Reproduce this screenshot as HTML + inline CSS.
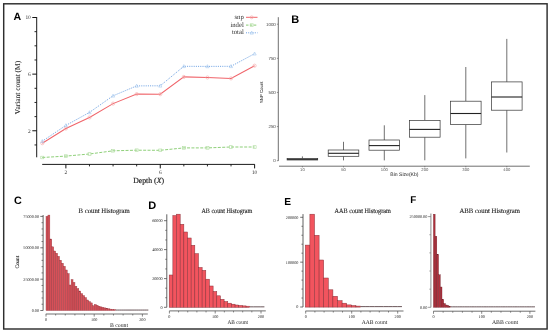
<!DOCTYPE html>
<html><head><meta charset="utf-8"><style>
html,body{margin:0;padding:0;background:#fff;width:550px;height:333px;overflow:hidden}
svg{display:block;will-change:transform}
text{text-rendering:geometricPrecision}
</style></head><body>
<svg width="550" height="333" viewBox="0 0 550 333">
<rect width="550" height="333" fill="#fff"/>
<rect x="3.7" y="3.8" width="543.4" height="325.2" fill="none" stroke="#2e2e2e" stroke-width="1.45"/>
<text x="13.4" y="19.8" style="font-family:'Liberation Sans',sans-serif;font-size:10.6px;font-weight:bold" text-anchor="start" fill="#000" >A</text>
<line x1="36.7" y1="17.0" x2="36.7" y2="157.3" stroke="#1a1a1a" stroke-width="1.0" />
<line x1="34.5" y1="144.94" x2="36.7" y2="144.94" stroke="#111" stroke-width="0.9" />
<line x1="32.300000000000004" y1="130.78" x2="36.7" y2="130.78" stroke="#111" stroke-width="1" />
<text x="30.800000000000004" y="132.58" style="font-family:'Liberation Serif',serif;font-size:5.4px;font-weight:normal" text-anchor="end" fill="#333" >2</text>
<line x1="34.5" y1="116.61999999999999" x2="36.7" y2="116.61999999999999" stroke="#111" stroke-width="0.9" />
<line x1="34.5" y1="102.46" x2="36.7" y2="102.46" stroke="#111" stroke-width="0.9" />
<line x1="34.5" y1="88.3" x2="36.7" y2="88.3" stroke="#111" stroke-width="0.9" />
<line x1="32.300000000000004" y1="74.13999999999999" x2="36.7" y2="74.13999999999999" stroke="#111" stroke-width="1" />
<text x="30.800000000000004" y="75.93999999999998" style="font-family:'Liberation Serif',serif;font-size:5.4px;font-weight:normal" text-anchor="end" fill="#333" >6</text>
<line x1="34.5" y1="59.97999999999999" x2="36.7" y2="59.97999999999999" stroke="#111" stroke-width="0.9" />
<line x1="34.5" y1="45.81999999999999" x2="36.7" y2="45.81999999999999" stroke="#111" stroke-width="0.9" />
<line x1="34.5" y1="31.659999999999997" x2="36.7" y2="31.659999999999997" stroke="#111" stroke-width="0.9" />
<line x1="32.300000000000004" y1="17.5" x2="36.7" y2="17.5" stroke="#111" stroke-width="1" />
<text x="30.800000000000004" y="19.3" style="font-family:'Liberation Serif',serif;font-size:5.4px;font-weight:normal" text-anchor="end" fill="#333" >10</text>
<line x1="42.2" y1="164.4" x2="254.8" y2="164.4" stroke="#1a1a1a" stroke-width="1.0" />
<line x1="65.89" y1="164.4" x2="65.89" y2="168.4" stroke="#111" stroke-width="1" />
<text x="65.89" y="173.9" style="font-family:'Liberation Serif',serif;font-size:5.4px;font-weight:normal" text-anchor="middle" fill="#333" >2</text>
<line x1="89.47999999999999" y1="164.4" x2="89.47999999999999" y2="166.4" stroke="#111" stroke-width="0.9" />
<line x1="113.07" y1="164.4" x2="113.07" y2="166.4" stroke="#111" stroke-width="0.9" />
<line x1="136.66" y1="164.4" x2="136.66" y2="166.4" stroke="#111" stroke-width="0.9" />
<line x1="160.25" y1="164.4" x2="160.25" y2="168.4" stroke="#111" stroke-width="1" />
<text x="160.25" y="173.9" style="font-family:'Liberation Serif',serif;font-size:5.4px;font-weight:normal" text-anchor="middle" fill="#333" >6</text>
<line x1="183.83999999999997" y1="164.4" x2="183.83999999999997" y2="166.4" stroke="#111" stroke-width="0.9" />
<line x1="207.43" y1="164.4" x2="207.43" y2="166.4" stroke="#111" stroke-width="0.9" />
<line x1="231.01999999999998" y1="164.4" x2="231.01999999999998" y2="166.4" stroke="#111" stroke-width="0.9" />
<line x1="254.61" y1="164.4" x2="254.61" y2="168.4" stroke="#111" stroke-width="1" />
<text x="254.61" y="173.9" style="font-family:'Liberation Serif',serif;font-size:5.4px;font-weight:normal" text-anchor="middle" fill="#333" >10</text>
<text x="148.6" y="183" style="font-family:'Liberation Serif',serif;font-size:7.75px;font-weight:normal" text-anchor="middle" fill="#222" stroke="#222" stroke-width="0.18" >Depth (<tspan font-style="italic">X</tspan>)</text>
<text x="19.6" y="87.5" style="font-family:'Liberation Serif',serif;font-size:7.45px;font-weight:normal" text-anchor="middle" fill="#2a2a2a" stroke="#2a2a2a" stroke-width="0.08" transform="rotate(-90 19.6 87.5)" >Variant count (M)</text>
<polyline points="42.30,157.50 65.89,156.10 89.48,154.00 113.07,150.80 136.66,150.20 160.25,150.30 183.84,147.90 207.43,147.90 231.02,147.00 254.61,147.00" fill="none" stroke="#88cc72" stroke-width="0.95" stroke-dasharray="3,1.4"/>
<polyline points="42.30,141.20 65.89,125.40 89.48,112.40 113.07,95.80 136.66,85.90 160.25,85.80 183.84,66.30 207.43,66.40 231.02,66.30 254.61,53.70" fill="none" stroke="#6a9fe2" stroke-width="1.0" stroke-dasharray="1.0,1.2"/>
<polyline points="42.30,143.20 65.89,128.50 89.48,117.50 113.07,103.60 136.66,94.10 160.25,94.20 183.84,76.90 207.43,77.50 231.02,78.40 254.61,65.70" fill="none" stroke="#f0646a" stroke-width="1.05" stroke-dasharray="none"/>
<circle cx="42.30" cy="143.2" r="1.6" fill="none" stroke="#f4a8a8" stroke-width="0.6"/>
<circle cx="65.89" cy="128.5" r="1.6" fill="none" stroke="#f4a8a8" stroke-width="0.6"/>
<circle cx="89.48" cy="117.5" r="1.6" fill="none" stroke="#f4a8a8" stroke-width="0.6"/>
<circle cx="113.07" cy="103.6" r="1.6" fill="none" stroke="#f4a8a8" stroke-width="0.6"/>
<circle cx="136.66" cy="94.1" r="1.6" fill="none" stroke="#f4a8a8" stroke-width="0.6"/>
<circle cx="160.25" cy="94.2" r="1.6" fill="none" stroke="#f4a8a8" stroke-width="0.6"/>
<circle cx="183.84" cy="76.9" r="1.6" fill="none" stroke="#f4a8a8" stroke-width="0.6"/>
<circle cx="207.43" cy="77.5" r="1.6" fill="none" stroke="#f4a8a8" stroke-width="0.6"/>
<circle cx="231.02" cy="78.4" r="1.6" fill="none" stroke="#f4a8a8" stroke-width="0.6"/>
<circle cx="254.61" cy="65.7" r="1.6" fill="none" stroke="#f4a8a8" stroke-width="0.6"/>
<rect x="40.80" y="156.2" width="3" height="2.6" fill="none" stroke="#b0dca0" stroke-width="0.6"/>
<rect x="64.39" y="154.79999999999998" width="3" height="2.6" fill="none" stroke="#b0dca0" stroke-width="0.6"/>
<rect x="87.98" y="152.7" width="3" height="2.6" fill="none" stroke="#b0dca0" stroke-width="0.6"/>
<rect x="111.57" y="149.5" width="3" height="2.6" fill="none" stroke="#b0dca0" stroke-width="0.6"/>
<rect x="135.16" y="148.89999999999998" width="3" height="2.6" fill="none" stroke="#b0dca0" stroke-width="0.6"/>
<rect x="158.75" y="149.0" width="3" height="2.6" fill="none" stroke="#b0dca0" stroke-width="0.6"/>
<rect x="182.34" y="146.6" width="3" height="2.6" fill="none" stroke="#b0dca0" stroke-width="0.6"/>
<rect x="205.93" y="146.6" width="3" height="2.6" fill="none" stroke="#b0dca0" stroke-width="0.6"/>
<rect x="229.52" y="145.7" width="3" height="2.6" fill="none" stroke="#b0dca0" stroke-width="0.6"/>
<rect x="253.11" y="145.7" width="3" height="2.6" fill="none" stroke="#b0dca0" stroke-width="0.6"/>
<path d="M40.70,142.5 L42.30,139.5 L43.90,142.5 Z" fill="none" stroke="#a4c8ee" stroke-width="0.6"/>
<path d="M64.29,126.7 L65.89,123.7 L67.49,126.7 Z" fill="none" stroke="#a4c8ee" stroke-width="0.6"/>
<path d="M87.88,113.7 L89.48,110.7 L91.08,113.7 Z" fill="none" stroke="#a4c8ee" stroke-width="0.6"/>
<path d="M111.47,97.1 L113.07,94.1 L114.67,97.1 Z" fill="none" stroke="#a4c8ee" stroke-width="0.6"/>
<path d="M135.06,87.2 L136.66,84.2 L138.26,87.2 Z" fill="none" stroke="#a4c8ee" stroke-width="0.6"/>
<path d="M158.65,87.1 L160.25,84.1 L161.85,87.1 Z" fill="none" stroke="#a4c8ee" stroke-width="0.6"/>
<path d="M182.24,67.6 L183.84,64.6 L185.44,67.6 Z" fill="none" stroke="#a4c8ee" stroke-width="0.6"/>
<path d="M205.83,67.7 L207.43,64.7 L209.03,67.7 Z" fill="none" stroke="#a4c8ee" stroke-width="0.6"/>
<path d="M229.42,67.6 L231.02,64.6 L232.62,67.6 Z" fill="none" stroke="#a4c8ee" stroke-width="0.6"/>
<path d="M253.01,55.0 L254.61,52.0 L256.21,55.0 Z" fill="none" stroke="#a4c8ee" stroke-width="0.6"/>
<text x="243.8" y="18.8" style="font-family:'Liberation Serif',serif;font-size:6.7px;font-weight:normal" text-anchor="end" fill="#333" >snp</text>
<text x="243.8" y="26.7" style="font-family:'Liberation Serif',serif;font-size:6.7px;font-weight:normal" text-anchor="end" fill="#333" >indel</text>
<text x="243.8" y="34.4" style="font-family:'Liberation Serif',serif;font-size:6.7px;font-weight:normal" text-anchor="end" fill="#333" >total</text>
<line x1="246" y1="17.3" x2="257.5" y2="17.3" stroke="#f0646a" stroke-width="1.0" />
<line x1="246" y1="25.1" x2="257.5" y2="25.1" stroke="#88cc72" stroke-width="1.0" stroke-dasharray="2.5,1.4"/>
<line x1="246" y1="32.8" x2="257.5" y2="32.8" stroke="#6a9fe2" stroke-width="1.0" stroke-dasharray="1,1.2"/>
<circle cx="251.7" cy="17.3" r="1.5" fill="none" stroke="#f4a8a8" stroke-width="0.6"/>
<rect x="250.2" y="23.8" width="3" height="2.6" fill="none" stroke="#b0dca0" stroke-width="0.6"/>
<path d="M250.1,34.1 L251.7,31.1 L253.3,34.1 Z" fill="none" stroke="#a4c8ee" stroke-width="0.6"/>
<text x="291.2" y="22.8" style="font-family:'Liberation Sans',sans-serif;font-size:11px;font-weight:bold" text-anchor="start" fill="#000" >B</text>
<line x1="278.3" y1="17.2" x2="278.3" y2="160.9" stroke="#555" stroke-width="0.85" />
<line x1="276.90000000000003" y1="160.7" x2="278.3" y2="160.7" stroke="#666" stroke-width="0.7" />
<text x="275.8" y="162.35" style="font-family:'Liberation Sans',sans-serif;font-size:4.4px;font-weight:normal" text-anchor="end" fill="#444" >0</text>
<line x1="276.90000000000003" y1="126.57499999999999" x2="278.3" y2="126.57499999999999" stroke="#666" stroke-width="0.7" />
<text x="275.8" y="128.225" style="font-family:'Liberation Sans',sans-serif;font-size:4.4px;font-weight:normal" text-anchor="end" fill="#444" >250</text>
<line x1="276.90000000000003" y1="92.44999999999999" x2="278.3" y2="92.44999999999999" stroke="#666" stroke-width="0.7" />
<text x="275.8" y="94.1" style="font-family:'Liberation Sans',sans-serif;font-size:4.4px;font-weight:normal" text-anchor="end" fill="#444" >500</text>
<line x1="276.90000000000003" y1="58.324999999999974" x2="278.3" y2="58.324999999999974" stroke="#666" stroke-width="0.7" />
<text x="275.8" y="59.97499999999997" style="font-family:'Liberation Sans',sans-serif;font-size:4.4px;font-weight:normal" text-anchor="end" fill="#444" >750</text>
<line x1="276.90000000000003" y1="24.19999999999999" x2="278.3" y2="24.19999999999999" stroke="#666" stroke-width="0.7" />
<text x="275.8" y="25.849999999999987" style="font-family:'Liberation Sans',sans-serif;font-size:4.4px;font-weight:normal" text-anchor="end" fill="#444" >1000</text>
<text x="263.4" y="92.3" style="font-family:'Liberation Sans',sans-serif;font-size:4.3px;font-weight:normal" text-anchor="middle" fill="#111" transform="rotate(-90 263.4 92.3)" >SNP Count</text>
<line x1="279.0" y1="166.2" x2="529.8" y2="166.2" stroke="#555" stroke-width="0.85" />
<line x1="302.4" y1="166" x2="302.4" y2="167.4" stroke="#666" stroke-width="0.7" />
<text x="302.4" y="171.1" style="font-family:'Liberation Sans',sans-serif;font-size:4.2px;font-weight:normal" text-anchor="middle" fill="#555" >10</text>
<line x1="343.5" y1="166" x2="343.5" y2="167.4" stroke="#666" stroke-width="0.7" />
<text x="343.5" y="171.1" style="font-family:'Liberation Sans',sans-serif;font-size:4.2px;font-weight:normal" text-anchor="middle" fill="#555" >50</text>
<line x1="384.3" y1="166" x2="384.3" y2="167.4" stroke="#666" stroke-width="0.7" />
<text x="384.3" y="171.1" style="font-family:'Liberation Sans',sans-serif;font-size:4.2px;font-weight:normal" text-anchor="middle" fill="#555" >100</text>
<line x1="424.8" y1="166" x2="424.8" y2="167.4" stroke="#666" stroke-width="0.7" />
<text x="424.8" y="171.1" style="font-family:'Liberation Sans',sans-serif;font-size:4.2px;font-weight:normal" text-anchor="middle" fill="#555" >200</text>
<line x1="465.8" y1="166" x2="465.8" y2="167.4" stroke="#666" stroke-width="0.7" />
<text x="465.8" y="171.1" style="font-family:'Liberation Sans',sans-serif;font-size:4.2px;font-weight:normal" text-anchor="middle" fill="#555" >300</text>
<line x1="506.8" y1="166" x2="506.8" y2="167.4" stroke="#666" stroke-width="0.7" />
<text x="506.8" y="171.1" style="font-family:'Liberation Sans',sans-serif;font-size:4.2px;font-weight:normal" text-anchor="middle" fill="#555" >400</text>
<text x="404.4" y="175.6" style="font-family:'Liberation Sans',sans-serif;font-size:5.1px;font-weight:normal" text-anchor="middle" fill="#222" >Bin Size(Kb)</text>
<line x1="302.4" y1="160.0" x2="302.4" y2="160.0" stroke="#333" stroke-width="0.7" />
<line x1="302.4" y1="158.6" x2="302.4" y2="156.4" stroke="#333" stroke-width="0.7" />
<rect x="287.09999999999997" y="158.6" width="30.6" height="1.4000000000000057" fill="#fff" stroke="#333" stroke-width="0.7"/>
<line x1="287.09999999999997" y1="159.3" x2="317.7" y2="159.3" stroke="#222" stroke-width="1.1" />
<line x1="343.5" y1="160.4" x2="343.5" y2="156.3" stroke="#333" stroke-width="0.7" />
<line x1="343.5" y1="150.0" x2="343.5" y2="141.8" stroke="#333" stroke-width="0.7" />
<rect x="328.2" y="150.0" width="30.6" height="6.300000000000011" fill="#fff" stroke="#333" stroke-width="0.7"/>
<line x1="328.2" y1="153.3" x2="358.8" y2="153.3" stroke="#222" stroke-width="1.1" />
<line x1="384.3" y1="160.4" x2="384.3" y2="150.2" stroke="#333" stroke-width="0.7" />
<line x1="384.3" y1="140.0" x2="384.3" y2="125.3" stroke="#333" stroke-width="0.7" />
<rect x="369.0" y="140.0" width="30.6" height="10.199999999999989" fill="#fff" stroke="#333" stroke-width="0.7"/>
<line x1="369.0" y1="145.6" x2="399.6" y2="145.6" stroke="#222" stroke-width="1.1" />
<line x1="424.8" y1="160.3" x2="424.8" y2="137.2" stroke="#333" stroke-width="0.7" />
<line x1="424.8" y1="120.4" x2="424.8" y2="95.1" stroke="#333" stroke-width="0.7" />
<rect x="409.5" y="120.4" width="30.6" height="16.799999999999983" fill="#fff" stroke="#333" stroke-width="0.7"/>
<line x1="409.5" y1="129.4" x2="440.1" y2="129.4" stroke="#222" stroke-width="1.1" />
<line x1="465.8" y1="158.4" x2="465.8" y2="124.6" stroke="#333" stroke-width="0.7" />
<line x1="465.8" y1="101.2" x2="465.8" y2="67.0" stroke="#333" stroke-width="0.7" />
<rect x="450.5" y="101.2" width="30.6" height="23.39999999999999" fill="#fff" stroke="#333" stroke-width="0.7"/>
<line x1="450.5" y1="113.5" x2="481.1" y2="113.5" stroke="#222" stroke-width="1.1" />
<line x1="506.8" y1="152.5" x2="506.8" y2="110.2" stroke="#333" stroke-width="0.7" />
<line x1="506.8" y1="81.9" x2="506.8" y2="38.9" stroke="#333" stroke-width="0.7" />
<rect x="491.5" y="81.9" width="30.6" height="28.299999999999997" fill="#fff" stroke="#333" stroke-width="0.7"/>
<line x1="491.5" y1="97.0" x2="522.1" y2="97.0" stroke="#222" stroke-width="1.1" />
<text x="14.1" y="203.7" style="font-family:'Liberation Sans',sans-serif;font-size:10.8px;font-weight:bold" text-anchor="start" fill="#000" >C</text>
<text x="0" y="0" style="font-family:'Liberation Serif',serif;font-size:6.9px;font-weight:normal" text-anchor="start" fill="#222" stroke="#222" stroke-width="0.12307692307692307" transform="translate(78.6 212.8) scale(0.975 1)" >B count Histogram</text>
<line x1="43.1" y1="215.0" x2="43.1" y2="310.5" stroke="#444" stroke-width="0.85" />
<line x1="40.300000000000004" y1="216.4" x2="43.1" y2="216.4" stroke="#444" stroke-width="0.75" />
<text x="39.0" y="217.75" style="font-family:'Liberation Serif',serif;font-size:4.2px;font-weight:normal" text-anchor="end" fill="#222" >75000.00</text>
<line x1="41.5" y1="222.68" x2="43.1" y2="222.68" stroke="#444" stroke-width="0.65" />
<line x1="41.5" y1="228.96" x2="43.1" y2="228.96" stroke="#444" stroke-width="0.65" />
<line x1="41.5" y1="235.24" x2="43.1" y2="235.24" stroke="#444" stroke-width="0.65" />
<line x1="41.5" y1="241.52" x2="43.1" y2="241.52" stroke="#444" stroke-width="0.65" />
<line x1="40.300000000000004" y1="247.8" x2="43.1" y2="247.8" stroke="#444" stroke-width="0.75" />
<text x="39.0" y="249.15" style="font-family:'Liberation Serif',serif;font-size:4.2px;font-weight:normal" text-anchor="end" fill="#222" >50000.00</text>
<line x1="41.5" y1="254.08" x2="43.1" y2="254.08" stroke="#444" stroke-width="0.65" />
<line x1="41.5" y1="260.36" x2="43.1" y2="260.36" stroke="#444" stroke-width="0.65" />
<line x1="41.5" y1="266.64" x2="43.1" y2="266.64" stroke="#444" stroke-width="0.65" />
<line x1="41.5" y1="272.92" x2="43.1" y2="272.92" stroke="#444" stroke-width="0.65" />
<line x1="40.300000000000004" y1="279.2" x2="43.1" y2="279.2" stroke="#444" stroke-width="0.75" />
<text x="39.0" y="280.55" style="font-family:'Liberation Serif',serif;font-size:4.2px;font-weight:normal" text-anchor="end" fill="#222" >25000.00</text>
<line x1="41.5" y1="285.46" x2="43.1" y2="285.46" stroke="#444" stroke-width="0.65" />
<line x1="41.5" y1="291.71999999999997" x2="43.1" y2="291.71999999999997" stroke="#444" stroke-width="0.65" />
<line x1="41.5" y1="297.98" x2="43.1" y2="297.98" stroke="#444" stroke-width="0.65" />
<line x1="41.5" y1="304.24" x2="43.1" y2="304.24" stroke="#444" stroke-width="0.65" />
<line x1="40.300000000000004" y1="310.5" x2="43.1" y2="310.5" stroke="#444" stroke-width="0.75" />
<text x="39.0" y="311.85" style="font-family:'Liberation Serif',serif;font-size:4.2px;font-weight:normal" text-anchor="end" fill="#222" >0.00</text>
<text x="19.5" y="262.2" style="font-family:'Liberation Serif',serif;font-size:5.2px;font-weight:normal" text-anchor="middle" fill="#111" stroke="#111" stroke-width="0.1" transform="rotate(-90 19.5 262.2)" >Count</text>
<line x1="45.8" y1="314.0" x2="147.8" y2="314.0" stroke="#555" stroke-width="0.85" />
<line x1="46.0" y1="314.0" x2="46.0" y2="316.6" stroke="#555" stroke-width="0.7" />
<line x1="55.64" y1="314.0" x2="55.64" y2="315.5" stroke="#555" stroke-width="0.7" />
<line x1="65.28" y1="314.0" x2="65.28" y2="315.5" stroke="#555" stroke-width="0.7" />
<line x1="74.92" y1="314.0" x2="74.92" y2="315.5" stroke="#555" stroke-width="0.7" />
<line x1="84.56" y1="314.0" x2="84.56" y2="315.5" stroke="#555" stroke-width="0.7" />
<line x1="94.2" y1="314.0" x2="94.2" y2="316.6" stroke="#555" stroke-width="0.7" />
<line x1="103.84" y1="314.0" x2="103.84" y2="315.5" stroke="#555" stroke-width="0.7" />
<line x1="113.48" y1="314.0" x2="113.48" y2="315.5" stroke="#555" stroke-width="0.7" />
<line x1="123.12" y1="314.0" x2="123.12" y2="315.5" stroke="#555" stroke-width="0.7" />
<line x1="132.76" y1="314.0" x2="132.76" y2="315.5" stroke="#555" stroke-width="0.7" />
<line x1="142.4" y1="314.0" x2="142.4" y2="316.6" stroke="#555" stroke-width="0.7" />
<text x="46.0" y="320.6" style="font-family:'Liberation Serif',serif;font-size:4.2px;font-weight:normal" text-anchor="middle" fill="#222" >0</text>
<text x="94.2" y="320.6" style="font-family:'Liberation Serif',serif;font-size:4.2px;font-weight:normal" text-anchor="middle" fill="#222" >100</text>
<text x="142.4" y="320.6" style="font-family:'Liberation Serif',serif;font-size:4.2px;font-weight:normal" text-anchor="middle" fill="#222" >200</text>
<text x="119" y="326.6" style="font-family:'Liberation Serif',serif;font-size:5.8px;font-weight:normal" text-anchor="middle" fill="#222" >B count</text>
<rect x="46.00" y="216.40" width="1.93" height="94.10" fill="#d65058" stroke="#983840" stroke-width="0.4"/>
<rect x="47.93" y="215.10" width="1.93" height="95.40" fill="#d65058" stroke="#983840" stroke-width="0.4"/>
<rect x="49.86" y="239.00" width="1.93" height="71.50" fill="#d65058" stroke="#983840" stroke-width="0.4"/>
<rect x="51.79" y="246.80" width="1.93" height="63.70" fill="#d65058" stroke="#983840" stroke-width="0.4"/>
<rect x="53.72" y="251.00" width="1.93" height="59.50" fill="#d65058" stroke="#983840" stroke-width="0.4"/>
<rect x="55.65" y="253.20" width="1.93" height="57.30" fill="#d65058" stroke="#983840" stroke-width="0.4"/>
<rect x="57.58" y="256.30" width="1.93" height="54.20" fill="#d65058" stroke="#983840" stroke-width="0.4"/>
<rect x="59.51" y="260.20" width="1.93" height="50.30" fill="#d65058" stroke="#983840" stroke-width="0.4"/>
<rect x="61.44" y="263.20" width="1.93" height="47.30" fill="#d65058" stroke="#983840" stroke-width="0.4"/>
<rect x="63.37" y="266.30" width="1.93" height="44.20" fill="#d65058" stroke="#983840" stroke-width="0.4"/>
<rect x="65.30" y="270.00" width="1.93" height="40.50" fill="#d65058" stroke="#983840" stroke-width="0.4"/>
<rect x="67.23" y="273.60" width="1.93" height="36.90" fill="#d65058" stroke="#983840" stroke-width="0.4"/>
<rect x="69.16" y="285.00" width="1.93" height="25.50" fill="#d65058" stroke="#983840" stroke-width="0.4"/>
<rect x="71.09" y="279.60" width="1.93" height="30.90" fill="#d65058" stroke="#983840" stroke-width="0.4"/>
<rect x="73.02" y="282.40" width="1.93" height="28.10" fill="#d65058" stroke="#983840" stroke-width="0.4"/>
<rect x="74.95" y="286.20" width="1.93" height="24.30" fill="#d65058" stroke="#983840" stroke-width="0.4"/>
<rect x="76.88" y="288.60" width="1.93" height="21.90" fill="#d65058" stroke="#983840" stroke-width="0.4"/>
<rect x="78.81" y="291.00" width="1.93" height="19.50" fill="#d65058" stroke="#983840" stroke-width="0.4"/>
<rect x="80.74" y="293.60" width="1.93" height="16.90" fill="#d65058" stroke="#983840" stroke-width="0.4"/>
<rect x="82.67" y="295.60" width="1.93" height="14.90" fill="#d65058" stroke="#983840" stroke-width="0.4"/>
<rect x="84.60" y="297.60" width="1.93" height="12.90" fill="#d65058" stroke="#983840" stroke-width="0.4"/>
<rect x="86.53" y="300.00" width="1.93" height="10.50" fill="#d65058" stroke="#983840" stroke-width="0.4"/>
<rect x="88.46" y="301.60" width="1.93" height="8.90" fill="#d65058" stroke="#983840" stroke-width="0.4"/>
<rect x="90.39" y="302.90" width="1.93" height="7.60" fill="#d65058" stroke="#983840" stroke-width="0.4"/>
<rect x="92.32" y="305.80" width="1.93" height="4.70" fill="#d65058" stroke="#983840" stroke-width="0.4"/>
<rect x="94.25" y="304.50" width="1.93" height="6.00" fill="#d65058" stroke="#983840" stroke-width="0.4"/>
<rect x="96.18" y="305.30" width="1.93" height="5.20" fill="#d65058" stroke="#983840" stroke-width="0.4"/>
<rect x="98.11" y="306.20" width="1.93" height="4.30" fill="#d65058" stroke="#983840" stroke-width="0.4"/>
<rect x="100.04" y="306.90" width="1.93" height="3.60" fill="#d65058" stroke="#983840" stroke-width="0.4"/>
<rect x="101.97" y="307.40" width="1.93" height="3.10" fill="#d65058" stroke="#983840" stroke-width="0.4"/>
<rect x="103.90" y="307.90" width="1.93" height="2.60" fill="#d65058" stroke="#983840" stroke-width="0.4"/>
<rect x="105.83" y="308.40" width="1.93" height="2.10" fill="#d65058" stroke="#983840" stroke-width="0.4"/>
<rect x="107.76" y="308.80" width="1.93" height="1.70" fill="#d65058" stroke="#983840" stroke-width="0.4"/>
<rect x="109.69" y="309.10" width="1.93" height="1.40" fill="#d65058" stroke="#983840" stroke-width="0.4"/>
<rect x="111.62" y="309.30" width="1.93" height="1.20" fill="#d65058" stroke="#983840" stroke-width="0.4"/>
<rect x="113.55" y="309.50" width="1.93" height="1.00" fill="#d65058" stroke="#983840" stroke-width="0.4"/>
<rect x="115.48" y="309.60" width="1.98" height="0.9" fill="#5a4448"/>
<rect x="117.41" y="309.60" width="1.98" height="0.9" fill="#5a4448"/>
<rect x="119.34" y="309.60" width="1.98" height="0.9" fill="#5a4448"/>
<rect x="121.27" y="309.60" width="1.98" height="0.9" fill="#5a4448"/>
<rect x="123.20" y="309.60" width="1.98" height="0.9" fill="#5a4448"/>
<rect x="125.13" y="309.60" width="1.98" height="0.9" fill="#5a4448"/>
<rect x="127.06" y="309.60" width="1.98" height="0.9" fill="#5a4448"/>
<rect x="128.99" y="309.60" width="1.98" height="0.9" fill="#5a4448"/>
<rect x="130.92" y="309.60" width="1.98" height="0.9" fill="#5a4448"/>
<rect x="132.85" y="309.60" width="1.98" height="0.9" fill="#5a4448"/>
<rect x="134.78" y="309.60" width="1.98" height="0.9" fill="#5a4448"/>
<rect x="136.71" y="309.60" width="1.98" height="0.9" fill="#5a4448"/>
<rect x="138.64" y="309.60" width="1.98" height="0.9" fill="#5a4448"/>
<rect x="140.57" y="309.60" width="1.98" height="0.9" fill="#5a4448"/>
<rect x="142.50" y="309.60" width="1.98" height="0.9" fill="#5a4448"/>
<rect x="144.43" y="309.60" width="1.98" height="0.9" fill="#5a4448"/>
<rect x="146.36" y="309.60" width="1.98" height="0.9" fill="#5a4448"/>
<text x="148.2" y="208.8" style="font-family:'Liberation Sans',sans-serif;font-size:11px;font-weight:bold" text-anchor="start" fill="#000" >D</text>
<text x="0" y="0" style="font-family:'Liberation Serif',serif;font-size:6.9px;font-weight:normal" text-anchor="start" fill="#222" stroke="#222" stroke-width="0.13559322033898305" transform="translate(201.4 212.8) scale(0.885 1)" >AB count Histogram</text>
<line x1="166.8" y1="214.3" x2="166.8" y2="307.3" stroke="#444" stroke-width="0.85" />
<line x1="164.0" y1="220.7" x2="166.8" y2="220.7" stroke="#444" stroke-width="0.75" />
<text x="162.6" y="222.04999999999998" style="font-family:'Liberation Serif',serif;font-size:4.2px;font-weight:normal" text-anchor="end" fill="#222" >60000</text>
<line x1="165.20000000000002" y1="230.33333333333331" x2="166.8" y2="230.33333333333331" stroke="#444" stroke-width="0.65" />
<line x1="165.20000000000002" y1="239.96666666666667" x2="166.8" y2="239.96666666666667" stroke="#444" stroke-width="0.65" />
<line x1="164.0" y1="249.6" x2="166.8" y2="249.6" stroke="#444" stroke-width="0.75" />
<text x="162.6" y="250.95" style="font-family:'Liberation Serif',serif;font-size:4.2px;font-weight:normal" text-anchor="end" fill="#222" >40000</text>
<line x1="165.20000000000002" y1="259.26666666666665" x2="166.8" y2="259.26666666666665" stroke="#444" stroke-width="0.65" />
<line x1="165.20000000000002" y1="268.93333333333334" x2="166.8" y2="268.93333333333334" stroke="#444" stroke-width="0.65" />
<line x1="164.0" y1="278.6" x2="166.8" y2="278.6" stroke="#444" stroke-width="0.75" />
<text x="162.6" y="279.95000000000005" style="font-family:'Liberation Serif',serif;font-size:4.2px;font-weight:normal" text-anchor="end" fill="#222" >20000</text>
<line x1="165.20000000000002" y1="288.1666666666667" x2="166.8" y2="288.1666666666667" stroke="#444" stroke-width="0.65" />
<line x1="165.20000000000002" y1="297.73333333333335" x2="166.8" y2="297.73333333333335" stroke="#444" stroke-width="0.65" />
<line x1="164.0" y1="307.3" x2="166.8" y2="307.3" stroke="#444" stroke-width="0.75" />
<text x="162.6" y="308.65000000000003" style="font-family:'Liberation Serif',serif;font-size:4.2px;font-weight:normal" text-anchor="end" fill="#222" >0</text>
<line x1="169.4" y1="310.9" x2="265.8" y2="310.9" stroke="#555" stroke-width="0.85" />
<line x1="169.4" y1="310.9" x2="169.4" y2="313.5" stroke="#555" stroke-width="0.7" />
<line x1="178.56" y1="310.9" x2="178.56" y2="312.4" stroke="#555" stroke-width="0.7" />
<line x1="187.72" y1="310.9" x2="187.72" y2="312.4" stroke="#555" stroke-width="0.7" />
<line x1="196.88" y1="310.9" x2="196.88" y2="312.4" stroke="#555" stroke-width="0.7" />
<line x1="206.04" y1="310.9" x2="206.04" y2="312.4" stroke="#555" stroke-width="0.7" />
<line x1="215.2" y1="310.9" x2="215.2" y2="313.5" stroke="#555" stroke-width="0.7" />
<line x1="224.35999999999999" y1="310.9" x2="224.35999999999999" y2="312.4" stroke="#555" stroke-width="0.7" />
<line x1="233.51999999999998" y1="310.9" x2="233.51999999999998" y2="312.4" stroke="#555" stroke-width="0.7" />
<line x1="242.67999999999998" y1="310.9" x2="242.67999999999998" y2="312.4" stroke="#555" stroke-width="0.7" />
<line x1="251.83999999999997" y1="310.9" x2="251.83999999999997" y2="312.4" stroke="#555" stroke-width="0.7" />
<line x1="261.0" y1="310.9" x2="261.0" y2="313.5" stroke="#555" stroke-width="0.7" />
<text x="169.4" y="317.5" style="font-family:'Liberation Serif',serif;font-size:4.2px;font-weight:normal" text-anchor="middle" fill="#222" >0</text>
<text x="215.2" y="317.5" style="font-family:'Liberation Serif',serif;font-size:4.2px;font-weight:normal" text-anchor="middle" fill="#222" >100</text>
<text x="261.0" y="317.5" style="font-family:'Liberation Serif',serif;font-size:4.2px;font-weight:normal" text-anchor="middle" fill="#222" >200</text>
<text x="0" y="0" style="font-family:'Liberation Serif',serif;font-size:5.8px;font-weight:normal" text-anchor="start" fill="#222" transform="translate(227.5 323.8) scale(0.92 1)" >AB count</text>
<rect x="169.20" y="275.00" width="3.66" height="32.30" fill="#f2545e" stroke="#8a3038" stroke-width="0.5"/>
<rect x="172.86" y="215.60" width="3.66" height="91.70" fill="#f2545e" stroke="#8a3038" stroke-width="0.5"/>
<rect x="176.52" y="214.20" width="3.66" height="93.10" fill="#f2545e" stroke="#8a3038" stroke-width="0.5"/>
<rect x="180.18" y="224.30" width="3.66" height="83.00" fill="#f2545e" stroke="#8a3038" stroke-width="0.5"/>
<rect x="183.84" y="232.00" width="3.66" height="75.30" fill="#f2545e" stroke="#8a3038" stroke-width="0.5"/>
<rect x="187.50" y="238.00" width="3.66" height="69.30" fill="#f2545e" stroke="#8a3038" stroke-width="0.5"/>
<rect x="191.16" y="245.30" width="3.66" height="62.00" fill="#f2545e" stroke="#8a3038" stroke-width="0.5"/>
<rect x="194.82" y="253.70" width="3.66" height="53.60" fill="#f2545e" stroke="#8a3038" stroke-width="0.5"/>
<rect x="198.48" y="267.50" width="3.66" height="39.80" fill="#f2545e" stroke="#8a3038" stroke-width="0.5"/>
<rect x="202.14" y="270.40" width="3.66" height="36.90" fill="#f2545e" stroke="#8a3038" stroke-width="0.5"/>
<rect x="205.80" y="279.20" width="3.66" height="28.10" fill="#f2545e" stroke="#8a3038" stroke-width="0.5"/>
<rect x="209.46" y="286.00" width="3.66" height="21.30" fill="#f2545e" stroke="#8a3038" stroke-width="0.5"/>
<rect x="213.12" y="291.50" width="3.66" height="15.80" fill="#f2545e" stroke="#8a3038" stroke-width="0.5"/>
<rect x="216.78" y="295.80" width="3.66" height="11.50" fill="#f2545e" stroke="#8a3038" stroke-width="0.5"/>
<rect x="220.44" y="299.30" width="3.66" height="8.00" fill="#f2545e" stroke="#8a3038" stroke-width="0.5"/>
<rect x="224.10" y="301.60" width="3.66" height="5.70" fill="#f2545e" stroke="#8a3038" stroke-width="0.5"/>
<rect x="227.76" y="303.20" width="3.66" height="4.10" fill="#f2545e" stroke="#8a3038" stroke-width="0.5"/>
<rect x="231.42" y="304.20" width="3.66" height="3.10" fill="#f2545e" stroke="#8a3038" stroke-width="0.5"/>
<rect x="235.08" y="305.00" width="3.66" height="2.30" fill="#f2545e" stroke="#8a3038" stroke-width="0.5"/>
<rect x="238.74" y="305.50" width="3.66" height="1.80" fill="#f2545e" stroke="#8a3038" stroke-width="0.5"/>
<rect x="242.40" y="305.90" width="3.66" height="1.40" fill="#f2545e" stroke="#8a3038" stroke-width="0.5"/>
<rect x="246.06" y="306.20" width="3.66" height="1.10" fill="#f2545e" stroke="#8a3038" stroke-width="0.5"/>
<rect x="249.72" y="306.40" width="3.71" height="0.9" fill="#5a4448"/>
<rect x="253.38" y="306.40" width="3.71" height="0.9" fill="#5a4448"/>
<rect x="257.04" y="306.40" width="3.71" height="0.9" fill="#5a4448"/>
<rect x="260.70" y="306.40" width="3.71" height="0.9" fill="#5a4448"/>
<text x="284.2" y="204.8" style="font-family:'Liberation Sans',sans-serif;font-size:10.2px;font-weight:bold" text-anchor="start" fill="#000" >E</text>
<text x="0" y="0" style="font-family:'Liberation Serif',serif;font-size:6.9px;font-weight:normal" text-anchor="start" fill="#222" stroke="#222" stroke-width="0.13259668508287292" transform="translate(334.4 212.7) scale(0.905 1)" >AAB count Histogram</text>
<line x1="303.0" y1="214.1" x2="303.0" y2="307.0" stroke="#444" stroke-width="0.85" />
<line x1="300.2" y1="217.3" x2="303.0" y2="217.3" stroke="#444" stroke-width="0.75" />
<text x="298.4" y="218.65" style="font-family:'Liberation Serif',serif;font-size:4.2px;font-weight:normal" text-anchor="end" fill="#222" >200000</text>
<line x1="301.4" y1="226.27" x2="303.0" y2="226.27" stroke="#444" stroke-width="0.65" />
<line x1="301.4" y1="235.24" x2="303.0" y2="235.24" stroke="#444" stroke-width="0.65" />
<line x1="301.4" y1="244.20999999999998" x2="303.0" y2="244.20999999999998" stroke="#444" stroke-width="0.65" />
<line x1="301.4" y1="253.17999999999998" x2="303.0" y2="253.17999999999998" stroke="#444" stroke-width="0.65" />
<line x1="300.2" y1="262.15" x2="303.0" y2="262.15" stroke="#444" stroke-width="0.75" />
<text x="298.4" y="263.5" style="font-family:'Liberation Serif',serif;font-size:4.2px;font-weight:normal" text-anchor="end" fill="#222" >100000</text>
<line x1="301.4" y1="271.12" x2="303.0" y2="271.12" stroke="#444" stroke-width="0.65" />
<line x1="301.4" y1="280.09" x2="303.0" y2="280.09" stroke="#444" stroke-width="0.65" />
<line x1="301.4" y1="289.06" x2="303.0" y2="289.06" stroke="#444" stroke-width="0.65" />
<line x1="301.4" y1="298.03" x2="303.0" y2="298.03" stroke="#444" stroke-width="0.65" />
<line x1="300.2" y1="307.0" x2="303.0" y2="307.0" stroke="#444" stroke-width="0.75" />
<text x="298.4" y="308.35" style="font-family:'Liberation Serif',serif;font-size:4.2px;font-weight:normal" text-anchor="end" fill="#222" >0</text>
<line x1="305.5" y1="311.0" x2="403.5" y2="311.0" stroke="#555" stroke-width="0.85" />
<line x1="305.7" y1="311.0" x2="305.7" y2="313.6" stroke="#555" stroke-width="0.7" />
<line x1="314.9" y1="311.0" x2="314.9" y2="312.5" stroke="#555" stroke-width="0.7" />
<line x1="324.09999999999997" y1="311.0" x2="324.09999999999997" y2="312.5" stroke="#555" stroke-width="0.7" />
<line x1="333.3" y1="311.0" x2="333.3" y2="312.5" stroke="#555" stroke-width="0.7" />
<line x1="342.5" y1="311.0" x2="342.5" y2="312.5" stroke="#555" stroke-width="0.7" />
<line x1="351.7" y1="311.0" x2="351.7" y2="313.6" stroke="#555" stroke-width="0.7" />
<line x1="360.9" y1="311.0" x2="360.9" y2="312.5" stroke="#555" stroke-width="0.7" />
<line x1="370.09999999999997" y1="311.0" x2="370.09999999999997" y2="312.5" stroke="#555" stroke-width="0.7" />
<line x1="379.29999999999995" y1="311.0" x2="379.29999999999995" y2="312.5" stroke="#555" stroke-width="0.7" />
<line x1="388.5" y1="311.0" x2="388.5" y2="312.5" stroke="#555" stroke-width="0.7" />
<line x1="397.7" y1="311.0" x2="397.7" y2="313.6" stroke="#555" stroke-width="0.7" />
<text x="305.7" y="317.6" style="font-family:'Liberation Serif',serif;font-size:4.2px;font-weight:normal" text-anchor="middle" fill="#222" >0</text>
<text x="351.7" y="317.6" style="font-family:'Liberation Serif',serif;font-size:4.2px;font-weight:normal" text-anchor="middle" fill="#222" >100</text>
<text x="397.7" y="317.6" style="font-family:'Liberation Serif',serif;font-size:4.2px;font-weight:normal" text-anchor="middle" fill="#222" >200</text>
<text x="0" y="0" style="font-family:'Liberation Serif',serif;font-size:5.8px;font-weight:normal" text-anchor="start" fill="#222" transform="translate(361.7 323.9) scale(0.96 1)" >AAB count</text>
<rect x="305.30" y="245.10" width="4.60" height="62.00" fill="#f2545e" stroke="#8a3038" stroke-width="0.5"/>
<rect x="309.90" y="214.20" width="4.60" height="92.90" fill="#f2545e" stroke="#8a3038" stroke-width="0.5"/>
<rect x="314.50" y="235.30" width="4.60" height="71.80" fill="#f2545e" stroke="#8a3038" stroke-width="0.5"/>
<rect x="319.10" y="260.00" width="4.60" height="47.10" fill="#f2545e" stroke="#8a3038" stroke-width="0.5"/>
<rect x="323.70" y="278.00" width="4.60" height="29.10" fill="#f2545e" stroke="#8a3038" stroke-width="0.5"/>
<rect x="328.30" y="289.80" width="4.60" height="17.30" fill="#f2545e" stroke="#8a3038" stroke-width="0.5"/>
<rect x="332.90" y="296.30" width="4.60" height="10.80" fill="#f2545e" stroke="#8a3038" stroke-width="0.5"/>
<rect x="337.50" y="300.70" width="4.60" height="6.40" fill="#f2545e" stroke="#8a3038" stroke-width="0.5"/>
<rect x="342.10" y="303.20" width="4.60" height="3.90" fill="#f2545e" stroke="#8a3038" stroke-width="0.5"/>
<rect x="346.70" y="304.90" width="4.60" height="2.20" fill="#f2545e" stroke="#8a3038" stroke-width="0.5"/>
<rect x="351.30" y="305.60" width="4.60" height="1.50" fill="#f2545e" stroke="#8a3038" stroke-width="0.5"/>
<rect x="355.90" y="306.10" width="4.60" height="1.00" fill="#f2545e" stroke="#8a3038" stroke-width="0.5"/>
<rect x="360.50" y="306.20" width="4.65" height="0.9" fill="#5a4448"/>
<rect x="365.10" y="306.20" width="4.65" height="0.9" fill="#5a4448"/>
<rect x="369.70" y="306.20" width="4.65" height="0.9" fill="#5a4448"/>
<rect x="374.30" y="306.20" width="4.65" height="0.9" fill="#5a4448"/>
<rect x="378.90" y="306.20" width="4.65" height="0.9" fill="#5a4448"/>
<rect x="383.50" y="306.20" width="4.65" height="0.9" fill="#5a4448"/>
<rect x="388.10" y="306.20" width="4.65" height="0.9" fill="#5a4448"/>
<rect x="392.70" y="306.20" width="4.65" height="0.9" fill="#5a4448"/>
<rect x="397.30" y="306.20" width="4.65" height="0.9" fill="#5a4448"/>
<text x="410.3" y="202.8" style="font-family:'Liberation Sans',sans-serif;font-size:9.8px;font-weight:bold" text-anchor="start" fill="#000" >F</text>
<text x="0" y="0" style="font-family:'Liberation Serif',serif;font-size:6.9px;font-weight:normal" text-anchor="start" fill="#222" stroke="#222" stroke-width="0.12307692307692307" transform="translate(459.5 213.0) scale(0.975 1)" >ABB count Histogram</text>
<line x1="430.9" y1="213.5" x2="430.9" y2="307.3" stroke="#777" stroke-width="0.85" />
<line x1="428.09999999999997" y1="216.6" x2="430.9" y2="216.6" stroke="#777" stroke-width="0.75" />
<text x="427.3" y="217.95" style="font-family:'Liberation Serif',serif;font-size:4.2px;font-weight:normal" text-anchor="end" fill="#222" >250000.00</text>
<line x1="429.29999999999995" y1="234.74" x2="430.9" y2="234.74" stroke="#777" stroke-width="0.65" />
<line x1="429.29999999999995" y1="252.88" x2="430.9" y2="252.88" stroke="#777" stroke-width="0.65" />
<line x1="429.29999999999995" y1="271.02" x2="430.9" y2="271.02" stroke="#777" stroke-width="0.65" />
<line x1="429.29999999999995" y1="289.16" x2="430.9" y2="289.16" stroke="#777" stroke-width="0.65" />
<line x1="428.09999999999997" y1="307.3" x2="430.9" y2="307.3" stroke="#777" stroke-width="0.75" />
<text x="427.3" y="308.65000000000003" style="font-family:'Liberation Serif',serif;font-size:4.2px;font-weight:normal" text-anchor="end" fill="#222" >0.00</text>
<line x1="433.4" y1="311.2" x2="535.4" y2="311.2" stroke="#555" stroke-width="0.85" />
<line x1="433.5" y1="311.2" x2="433.5" y2="313.8" stroke="#555" stroke-width="0.7" />
<line x1="443.14" y1="311.2" x2="443.14" y2="312.7" stroke="#555" stroke-width="0.7" />
<line x1="452.78" y1="311.2" x2="452.78" y2="312.7" stroke="#555" stroke-width="0.7" />
<line x1="462.42" y1="311.2" x2="462.42" y2="312.7" stroke="#555" stroke-width="0.7" />
<line x1="472.06" y1="311.2" x2="472.06" y2="312.7" stroke="#555" stroke-width="0.7" />
<line x1="481.7" y1="311.2" x2="481.7" y2="313.8" stroke="#555" stroke-width="0.7" />
<line x1="491.34" y1="311.2" x2="491.34" y2="312.7" stroke="#555" stroke-width="0.7" />
<line x1="500.97999999999996" y1="311.2" x2="500.97999999999996" y2="312.7" stroke="#555" stroke-width="0.7" />
<line x1="510.62" y1="311.2" x2="510.62" y2="312.7" stroke="#555" stroke-width="0.7" />
<line x1="520.26" y1="311.2" x2="520.26" y2="312.7" stroke="#555" stroke-width="0.7" />
<line x1="529.9" y1="311.2" x2="529.9" y2="313.8" stroke="#555" stroke-width="0.7" />
<text x="433.5" y="317.8" style="font-family:'Liberation Serif',serif;font-size:4.2px;font-weight:normal" text-anchor="middle" fill="#222" >0</text>
<text x="481.7" y="317.8" style="font-family:'Liberation Serif',serif;font-size:4.2px;font-weight:normal" text-anchor="middle" fill="#222" >100</text>
<text x="529.9" y="317.8" style="font-family:'Liberation Serif',serif;font-size:4.2px;font-weight:normal" text-anchor="middle" fill="#222" >200</text>
<text x="491.9" y="323.9" style="font-family:'Liberation Serif',serif;font-size:5.8px;font-weight:normal" text-anchor="start" fill="#222" >ABB count</text>
<rect x="433.40" y="214.20" width="1.72" height="93.10" fill="#b0303c" stroke="#6a2028" stroke-width="0.35"/>
<rect x="435.12" y="236.30" width="1.72" height="71.00" fill="#b0303c" stroke="#6a2028" stroke-width="0.35"/>
<rect x="436.84" y="254.30" width="1.72" height="53.00" fill="#b0303c" stroke="#6a2028" stroke-width="0.35"/>
<rect x="438.56" y="274.80" width="1.72" height="32.50" fill="#b0303c" stroke="#6a2028" stroke-width="0.35"/>
<rect x="440.28" y="287.00" width="1.72" height="20.30" fill="#b0303c" stroke="#6a2028" stroke-width="0.35"/>
<rect x="442.00" y="299.30" width="1.72" height="8.00" fill="#b0303c" stroke="#6a2028" stroke-width="0.35"/>
<rect x="443.72" y="303.50" width="1.72" height="3.80" fill="#b0303c" stroke="#6a2028" stroke-width="0.35"/>
<rect x="445.44" y="305.00" width="1.72" height="2.30" fill="#b0303c" stroke="#6a2028" stroke-width="0.35"/>
<rect x="447.16" y="305.80" width="1.72" height="1.50" fill="#b0303c" stroke="#6a2028" stroke-width="0.35"/>
<rect x="448.88" y="306.20" width="1.72" height="1.10" fill="#b0303c" stroke="#6a2028" stroke-width="0.35"/>
<rect x="450.60" y="306.40" width="1.77" height="0.9" fill="#5a4448"/>
<rect x="452.32" y="306.40" width="1.77" height="0.9" fill="#5a4448"/>
<rect x="454.04" y="306.40" width="1.77" height="0.9" fill="#5a4448"/>
<rect x="455.76" y="306.40" width="1.77" height="0.9" fill="#5a4448"/>
<rect x="457.48" y="306.40" width="1.77" height="0.9" fill="#5a4448"/>
<rect x="459.20" y="306.40" width="1.77" height="0.9" fill="#5a4448"/>
<rect x="460.92" y="306.40" width="1.77" height="0.9" fill="#5a4448"/>
<rect x="462.64" y="306.40" width="1.77" height="0.9" fill="#5a4448"/>
<rect x="464.36" y="306.40" width="1.77" height="0.9" fill="#5a4448"/>
<rect x="466.08" y="306.40" width="1.77" height="0.9" fill="#5a4448"/>
<rect x="467.80" y="306.40" width="1.77" height="0.9" fill="#5a4448"/>
<rect x="469.52" y="306.40" width="1.77" height="0.9" fill="#5a4448"/>
<rect x="471.24" y="306.40" width="1.77" height="0.9" fill="#5a4448"/>
<rect x="472.96" y="306.40" width="1.77" height="0.9" fill="#5a4448"/>
<rect x="474.68" y="306.40" width="1.77" height="0.9" fill="#5a4448"/>
<rect x="476.40" y="306.40" width="1.77" height="0.9" fill="#5a4448"/>
<rect x="478.12" y="306.40" width="1.77" height="0.9" fill="#5a4448"/>
<rect x="479.84" y="306.40" width="1.77" height="0.9" fill="#5a4448"/>
<rect x="481.56" y="306.40" width="1.77" height="0.9" fill="#5a4448"/>
<rect x="483.28" y="306.40" width="1.77" height="0.9" fill="#5a4448"/>
<rect x="485.00" y="306.40" width="1.77" height="0.9" fill="#5a4448"/>
<rect x="486.72" y="306.40" width="1.77" height="0.9" fill="#5a4448"/>
<rect x="488.44" y="306.40" width="1.77" height="0.9" fill="#5a4448"/>
<rect x="490.16" y="306.40" width="1.77" height="0.9" fill="#5a4448"/>
<rect x="491.88" y="306.40" width="1.77" height="0.9" fill="#5a4448"/>
<rect x="493.60" y="306.40" width="1.77" height="0.9" fill="#5a4448"/>
<rect x="495.32" y="306.40" width="1.77" height="0.9" fill="#5a4448"/>
<rect x="497.04" y="306.40" width="1.77" height="0.9" fill="#5a4448"/>
<rect x="498.76" y="306.40" width="1.77" height="0.9" fill="#5a4448"/>
<rect x="500.48" y="306.40" width="1.77" height="0.9" fill="#5a4448"/>
<rect x="502.20" y="306.40" width="1.77" height="0.9" fill="#5a4448"/>
<rect x="503.92" y="306.40" width="1.77" height="0.9" fill="#5a4448"/>
<rect x="505.64" y="306.40" width="1.77" height="0.9" fill="#5a4448"/>
<rect x="507.36" y="306.40" width="1.77" height="0.9" fill="#5a4448"/>
<rect x="509.08" y="306.40" width="1.77" height="0.9" fill="#5a4448"/>
<rect x="510.80" y="306.40" width="1.77" height="0.9" fill="#5a4448"/>
<rect x="512.52" y="306.40" width="1.77" height="0.9" fill="#5a4448"/>
<rect x="514.24" y="306.40" width="1.77" height="0.9" fill="#5a4448"/>
<rect x="515.96" y="306.40" width="1.77" height="0.9" fill="#5a4448"/>
<rect x="517.68" y="306.40" width="1.77" height="0.9" fill="#5a4448"/>
<rect x="519.40" y="306.40" width="1.77" height="0.9" fill="#5a4448"/>
<rect x="521.12" y="306.40" width="1.77" height="0.9" fill="#5a4448"/>
<rect x="522.84" y="306.40" width="1.77" height="0.9" fill="#5a4448"/>
<rect x="524.56" y="306.40" width="1.77" height="0.9" fill="#5a4448"/>
<rect x="526.28" y="306.40" width="1.77" height="0.9" fill="#5a4448"/>
<rect x="528.00" y="306.40" width="1.77" height="0.9" fill="#5a4448"/>
<rect x="529.72" y="306.40" width="1.77" height="0.9" fill="#5a4448"/>
<rect x="531.44" y="306.40" width="1.77" height="0.9" fill="#5a4448"/>
<rect x="533.16" y="306.40" width="1.77" height="0.9" fill="#5a4448"/>
</svg>
</body></html>
